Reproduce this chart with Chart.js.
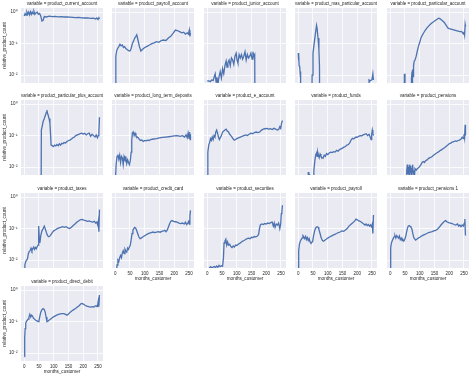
<!DOCTYPE html>
<html>
<head>
<meta charset="utf-8">
<script src="https://cdn.jsdelivr.net/npm/chart.js@4/dist/chart.umd.min.js"></script>
<style>
    body { margin: 0; background: #fff; }
    #grid { position: relative; width: 474px; height: 376px; }
    #grid canvas { position: absolute; }
</style>
</head>
<body>
<div id="grid"></div>
<script>
// relative product count per month of customer seniority
const xTicks = [0, 50, 100, 150, 200, 250];
const yTicks = [0.01, 0.1, 1];
const yTickLabels = ['10\u207B\u00B2', '10\u207B\u00B9', '10\u2070'];

const mCurrentAccount = [0,3,6,9,12,15,18,21,24,27,30,33,36,40,44,48,52,56,60,64,68,75,85,95,105,115,125,135,145,155,165,175,185,195,205,215,225,235,242,246,250,253,255];
const vCurrentAccount = [0.75,0.9,0.8,1.0,0.85,1.0,0.82,1.02,0.85,1.0,0.88,1.05,0.85,0.95,1.0,0.85,0.9,0.75,0.52,0.55,0.72,0.7,0.74,0.72,0.73,0.71,0.72,0.7,0.7,0.69,0.68,0.67,0.68,0.66,0.65,0.66,0.63,0.64,0.6,0.65,0.58,0.66,0.6];

const mPayrollAccount = [0,2,5,8,12,16,20,24,28,32,36,40,45,50,54,58,62,66,70,73,77,82,87,92,100,108,116,124,132,140,148,156,164,172,180,188,196,204,210,218,226,232,238,244,248,251,253,255];
const vPayrollAccount = [0.002,0.04,0.06,0.07,0.08,0.095,0.085,0.09,0.075,0.08,0.07,0.065,0.06,0.058,0.07,0.1,0.12,0.15,0.17,0.19,0.13,0.08,0.058,0.065,0.075,0.082,0.09,0.1,0.105,0.115,0.11,0.125,0.13,0.125,0.15,0.17,0.21,0.27,0.26,0.24,0.22,0.23,0.2,0.22,0.2,0.27,0.17,0.22];

const mJuniorAccount = [0,5,10,15,20,24,27,30,33,36,40,44,48,52,56,60,64,67,70,74,78,82,86,90,94,98,101,104,108,112,116,120,124,128,132,136,140,144,148,152,155,158,161,163,255];
const vJuniorAccount = [0.0065,0.0066,0.0062,0.007,0.0068,0.009,0.011,0.006,0.0085,0.005,0.009,0.013,0.008,0.016,0.011,0.02,0.028,0.018,0.025,0.03,0.02,0.035,0.03,0.022,0.04,0.05,0.03,0.024,0.045,0.035,0.045,0.032,0.04,0.055,0.03,0.045,0.035,0.04,0.05,0.032,0.055,0.04,0.045,0,0];

const mMasParticular = [0,1,2,3,5,6,8,10,44,47,50,54,58,62,64,67,70,72,74,238,240,244,250,253,255];
const vMasParticular = [0.05,0.03,0.045,0.02,0.018,0.013,0.008,0,0,0.01,0.05,0.1,0.2,0.38,0.3,0.15,0.065,0.02,0,0,0.007,0.0065,0.0072,0.011,0.007];

const mParticular = [0,46,48,50,70,72,74,75,76,78,79,81,84,88,92,96,100,104,108,112,118,124,130,136,142,148,154,160,164,168,172,178,184,188,192,196,200,206,212,218,224,230,236,240,244,248,250,252,254,255];
const vParticular = [0,0,0.011,0,0,0.008,0.013,0.005,0.015,0.009,0.02,0.027,0.03,0.04,0.06,0.085,0.11,0.15,0.18,0.21,0.26,0.31,0.36,0.41,0.46,0.5,0.55,0.6,0.64,0.62,0.58,0.52,0.46,0.4,0.35,0.31,0.3,0.29,0.28,0.27,0.26,0.25,0.24,0.245,0.23,0.2,0.24,0.19,0.4,0.35];

const mParticularPlus = [0,56,58,61,64,68,72,75,77,79,81,84,87,89,91,95,99,103,107,111,115,119,123,127,131,135,140,145,150,155,160,165,170,175,180,185,190,195,200,205,210,215,220,225,230,235,240,244,248,251,253,255];
const vParticularPlus = [0,0,0.15,0.2,0.28,0.35,0.45,0.55,0.65,0.5,0.45,0.35,0.25,0.12,0.05,0.048,0.045,0.05,0.047,0.052,0.048,0.055,0.05,0.057,0.055,0.06,0.058,0.065,0.07,0.072,0.078,0.085,0.09,0.1,0.105,0.11,0.115,0.12,0.112,0.118,0.105,0.115,0.12,0.095,0.11,0.1,0.09,0.105,0.085,0.1,0.12,0.38];

const mLongTerm = [0,3,6,9,12,15,18,21,24,27,30,33,36,39,42,45,48,51,54,56,58,61,64,67,70,74,78,82,86,90,95,100,105,110,115,120,130,140,150,160,170,180,190,200,210,220,228,235,240,244,247,250,252,254,255];
const vLongTerm = [0.003,0.012,0.022,0.025,0.018,0.024,0.014,0.022,0.02,0.012,0.022,0.018,0.02,0.013,0.017,0.014,0.012,0.016,0.03,0.07,0.12,0.13,0.1,0.12,0.1,0.09,0.085,0.075,0.07,0.072,0.065,0.07,0.068,0.072,0.07,0.075,0.078,0.08,0.085,0.088,0.09,0.092,0.095,0.098,0.1,0.095,0.1,0.09,0.105,0.085,0.12,0.08,0.13,0.075,0.11];

const mEAccount = [0,2,5,8,11,14,17,20,23,26,29,32,35,38,41,44,48,52,56,60,64,68,72,76,80,84,88,92,96,100,106,112,118,124,130,136,142,148,154,160,166,172,178,184,190,196,202,208,214,220,226,232,238,242,246,249,252,255];
const vEAccount = [0.002,0.03,0.05,0.06,0.08,0.07,0.09,0.075,0.1,0.09,0.13,0.15,0.12,0.09,0.075,0.085,0.1,0.13,0.14,0.15,0.16,0.14,0.13,0.11,0.1,0.09,0.078,0.072,0.075,0.08,0.085,0.09,0.095,0.1,0.105,0.1,0.11,0.12,0.115,0.125,0.13,0.125,0.13,0.15,0.16,0.165,0.17,0.16,0.165,0.155,0.17,0.16,0.15,0.155,0.19,0.17,0.25,0.3];

const mFunds = [0,32,34,36,38,40,50,53,56,59,62,64,66,68,71,74,77,80,84,88,92,96,100,105,110,115,120,125,130,135,140,145,150,155,160,165,170,175,180,184,188,192,196,200,205,210,215,220,225,230,235,240,244,247,249,251,253,255];
const vFunds = [0,0,0.007,0.004,0.006,0,0,0.008,0.015,0.024,0.028,0.022,0.03,0.025,0.02,0.026,0.022,0.02,0.019,0.024,0.022,0.027,0.025,0.028,0.03,0.029,0.031,0.03,0.034,0.032,0.036,0.038,0.04,0.043,0.045,0.05,0.052,0.06,0.075,0.082,0.078,0.085,0.09,0.088,0.095,0.1,0.098,0.105,0.11,0.115,0.1,0.11,0.09,0.075,0.11,0.15,0.12,0.1];

const mPensions = [0,54,56,58,60,62,64,66,68,70,72,74,76,78,80,82,84,88,92,96,100,104,108,112,116,120,125,130,135,140,145,150,155,160,165,170,175,180,185,190,195,200,205,210,215,220,225,230,235,240,244,248,250,252,254,255];
const vPensions = [0,0,0.008,0.012,0.006,0.01,0.005,0.012,0.007,0.011,0.005,0.009,0.012,0.006,0.008,0.005,0.009,0.008,0.009,0.0095,0.0105,0.012,0.014,0.015,0.014,0.016,0.017,0.019,0.02,0.021,0.023,0.025,0.027,0.029,0.031,0.034,0.036,0.039,0.042,0.046,0.05,0.055,0.058,0.062,0.064,0.068,0.066,0.07,0.072,0.078,0.09,0.08,0.11,0.085,0.22,0.1];

const mTaxes = [0,2,5,8,11,14,17,20,23,26,29,32,35,38,41,44,47,49,51,53,56,60,64,68,71,75,79,83,87,91,95,100,106,112,118,124,130,136,142,148,154,160,166,172,178,184,190,196,202,208,214,220,226,232,238,242,246,249,251,253,255];
const vTaxes = [0.004,0.007,0.009,0.01,0.011,0.016,0.019,0.02,0.024,0.02,0.023,0.026,0.022,0.025,0.023,0.027,0.03,0.12,0.05,0.035,0.06,0.085,0.1,0.12,0.1,0.075,0.06,0.055,0.058,0.065,0.075,0.085,0.092,0.1,0.105,0.11,0.115,0.11,0.115,0.105,0.1,0.11,0.125,0.14,0.16,0.175,0.19,0.195,0.185,0.18,0.17,0.175,0.165,0.16,0.17,0.15,0.16,0.13,0.17,0.08,0.4];

const mCreditCard = [0,4,6,9,12,15,18,21,24,27,30,33,36,39,42,45,48,51,54,57,60,63,66,69,72,76,80,84,88,93,98,104,110,116,122,128,134,140,146,152,158,164,168,172,176,180,184,188,192,198,204,210,216,222,228,234,238,242,246,249,251,253,255];
const vCreditCard = [0.001,0.004,0.007,0.01,0.009,0.012,0.014,0.012,0.017,0.02,0.016,0.022,0.019,0.018,0.024,0.022,0.026,0.03,0.045,0.07,0.09,0.1,0.11,0.105,0.09,0.07,0.055,0.048,0.05,0.054,0.058,0.063,0.068,0.072,0.075,0.078,0.075,0.078,0.08,0.077,0.082,0.085,0.088,0.08,0.09,0.11,0.14,0.17,0.18,0.17,0.165,0.16,0.15,0.145,0.15,0.14,0.16,0.135,0.15,0.17,0.14,0.25,0.38];

const mSecurities = [0,6,8,12,16,20,24,28,32,36,40,44,48,52,55,57,60,63,66,69,72,76,80,84,88,92,96,100,105,110,115,120,125,130,135,140,145,150,155,160,165,170,174,177,180,185,190,195,200,205,210,215,220,224,227,230,234,238,242,246,249,251,253,255];
const vSecurities = [0,0,0.0058,0.0062,0.0056,0.006,0.0063,0.0058,0.0065,0.0059,0.0068,0.0062,0.0066,0.0064,0.012,0.035,0.04,0.046,0.03,0.038,0.03,0.032,0.027,0.025,0.028,0.026,0.03,0.029,0.032,0.034,0.037,0.04,0.042,0.045,0.048,0.05,0.048,0.053,0.052,0.056,0.055,0.058,0.065,0.1,0.13,0.14,0.135,0.145,0.14,0.15,0.145,0.155,0.16,0.12,0.15,0.11,0.14,0.13,0.15,0.1,0.14,0.3,0.35,0.55];

const mPayroll = [0,1,2,4,7,10,13,16,19,22,25,28,31,34,37,40,43,46,49,52,55,58,61,64,67,70,74,78,82,86,90,95,100,106,112,118,124,130,136,142,148,154,160,166,172,178,184,190,196,200,206,212,218,222,226,230,234,238,242,245,248,251,253,255];
const vPayroll = [0.001,0.006,0.02,0.032,0.04,0.045,0.05,0.06,0.055,0.048,0.056,0.045,0.052,0.042,0.048,0.038,0.035,0.036,0.04,0.06,0.08,0.1,0.11,0.115,0.11,0.095,0.07,0.05,0.042,0.04,0.043,0.046,0.05,0.054,0.058,0.062,0.066,0.07,0.075,0.078,0.085,0.082,0.09,0.1,0.12,0.135,0.15,0.17,0.2,0.19,0.175,0.165,0.15,0.14,0.13,0.14,0.125,0.135,0.12,0.13,0.115,0.14,0.07,0.27];

const mPensions1 = [0,1,2,4,7,10,13,16,19,22,25,28,31,34,37,40,43,46,49,52,55,58,61,64,67,70,73,76,79,82,86,90,95,100,106,112,118,124,130,136,142,148,154,160,166,172,178,184,188,192,198,204,210,216,222,228,232,236,240,244,248,251,253,255];
const vPensions1 = [0.001,0.008,0.025,0.035,0.042,0.048,0.055,0.06,0.05,0.06,0.055,0.05,0.058,0.045,0.05,0.042,0.045,0.04,0.045,0.055,0.075,0.1,0.12,0.125,0.12,0.11,0.1,0.075,0.055,0.048,0.043,0.046,0.05,0.053,0.058,0.062,0.066,0.07,0.075,0.078,0.08,0.085,0.088,0.095,0.11,0.13,0.15,0.17,0.18,0.165,0.155,0.15,0.145,0.135,0.13,0.14,0.12,0.13,0.115,0.13,0.12,0.15,0.2,0.06];

const mDirectDebit = [0,1,2,3,5,7,10,13,16,19,22,25,28,31,35,39,43,47,50,53,56,60,64,68,71,74,77,81,86,92,98,104,110,116,122,128,134,140,145,150,156,162,168,174,180,186,192,196,200,206,212,218,224,230,236,240,244,247,249,251,253,255];
const vDirectDebit = [0.0078,0.01,0.03,0.06,0.09,0.1,0.11,0.12,0.14,0.17,0.14,0.16,0.15,0.13,0.12,0.11,0.105,0.1,0.11,0.15,0.2,0.24,0.26,0.24,0.2,0.14,0.1,0.105,0.115,0.125,0.14,0.15,0.16,0.17,0.175,0.18,0.18,0.17,0.16,0.175,0.2,0.22,0.24,0.26,0.29,0.32,0.37,0.38,0.36,0.33,0.31,0.3,0.29,0.3,0.29,0.31,0.32,0.3,0.34,0.45,0.3,0.7];

const panels = [
    ['product_current_account', mCurrentAccount, vCurrentAccount],
    ['product_payroll_account', mPayrollAccount, vPayrollAccount],
    ['product_junior_account', mJuniorAccount, vJuniorAccount],
    ['product_mas_particular_account', mMasParticular, vMasParticular],
    ['product_particular_account', mParticular, vParticular],
    ['product_particular_plus_account', mParticularPlus, vParticularPlus],
    ['product_long_term_deposits', mLongTerm, vLongTerm],
    ['product_e_account', mEAccount, vEAccount],
    ['product_funds', mFunds, vFunds],
    ['product_pensions', mPensions, vPensions],
    ['product_taxes', mTaxes, vTaxes],
    ['product_credit_card', mCreditCard, vCreditCard],
    ['product_securities', mSecurities, vSecurities],
    ['product_payroll', mPayroll, vPayroll],
    ['product_pensions 1', mPensions1, vPensions1],
    ['product_direct_debit', mDirectDebit, vDirectDebit]
];

// facet layout (plot area corners)
const colLeft = [21, 112, 204, 295, 387];
const rowTop = [8, 100, 193, 286];
const PW = 82, PH = 75;
const AX_W = 21, TITLE_H = 8, AX_H = 16, PAD_R = 4;
const FONT = '"Liberation Sans", Arial, sans-serif';
const TEXT = '#262626';

const bgPlugin = {
    id: 'facetBg',
    beforeDraw(chart) {
        const a = chart.chartArea, ctx = chart.ctx;
        ctx.save();
        ctx.fillStyle = '#EAEAF2';
        ctx.fillRect(a.left, a.top, a.right - a.left, a.bottom - a.top);
        ctx.restore();
    }
};

const grid = document.getElementById('grid');

panels.forEach(([name, months, values], i) => {
    const row = Math.floor(i / 5), col = i % 5;
    const showX = i >= 11;
    const showY = col === 0;

    const cv = document.createElement('canvas');
    const w = AX_W + PW + PAD_R, h = TITLE_H + PH + AX_H;
    cv.width = w; cv.height = h;
    cv.style.width = w + 'px'; cv.style.height = h + 'px';
    cv.style.left = (colLeft[col] - AX_W) + 'px';
    cv.style.top = (rowTop[row] - TITLE_H) + 'px';
    grid.appendChild(cv);

    // matplotlib clips non-positive values on a log axis to a tiny number
    const pts = months.map((m, k) => ({ x: m, y: values[k] > 0 ? values[k] : 1e-6 }));

    new Chart(cv, {
        type: 'line',
        data: {
            datasets: [{
                data: pts,
                borderColor: '#4C72B0',
                borderWidth: 1.3,
                pointRadius: 0,
                tension: 0
            }]
        },
        options: {
            responsive: false,
            animation: false,
            events: [],
            layout: { padding: { top: 0, right: PAD_R, bottom: 0, left: 0 } },
            plugins: {
                legend: { display: false },
                tooltip: { enabled: false },
                title: {
                    display: true,
                    text: 'variable = ' + name,
                    fullSize: false,
                    color: TEXT,
                    padding: 0,
                    font: { family: FONT, size: 4.5, weight: 'normal', lineHeight: TITLE_H / 4.5 }
                }
            },
            scales: {
                x: {
                    type: 'linear',
                    min: -11,
                    max: 267,
                    afterBuildTicks: s => { s.ticks = xTicks.map(v => ({ value: v })); },
                    afterFit: s => { s.height = AX_H; },
                    border: { display: false },
                    grid: { color: '#ffffff', lineWidth: 0.8, drawTicks: false },
                    ticks: {
                        display: showX,
                        padding: 3.3,
                        maxRotation: 0,
                        autoSkip: false,
                        color: TEXT,
                        font: { family: FONT, size: 4.5 },
                        callback: v => String(v)
                    },
                    title: {
                        display: showX,
                        text: 'months_customer',
                        color: TEXT,
                        padding: { top: 0, bottom: 2.2 },
                        font: { family: FONT, size: 4.6 }
                    }
                },
                y: {
                    type: 'logarithmic',
                    min: Math.pow(10, -2.25),
                    max: Math.pow(10, 0.13),
                    afterBuildTicks: s => { s.ticks = yTicks.map(v => ({ value: v })); },
                    afterFit: s => { s.width = AX_W; },
                    border: { display: false },
                    grid: { color: '#ffffff', lineWidth: 0.8, drawTicks: false },
                    ticks: {
                        display: showY,
                        padding: 3.5,
                        color: TEXT,
                        font: { family: FONT, size: 4.5 },
                        callback: (v, k) => yTickLabels[k]
                    },
                    title: {
                        display: showY,
                        text: 'relative_product_count',
                        color: TEXT,
                        padding: { top: 2.2, bottom: 0 },
                        font: { family: FONT, size: 4.6 }
                    }
                }
            }
        },
        plugins: [bgPlugin]
    });
});
</script>
</body>
</html>
